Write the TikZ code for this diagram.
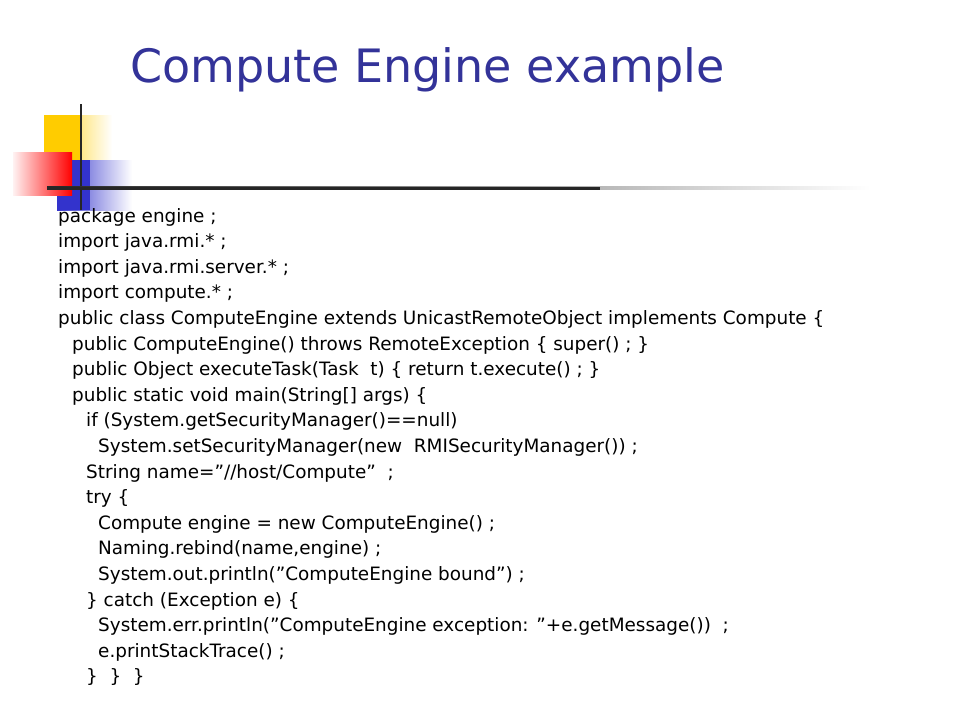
\documentclass[tikz,border=0pt]{standalone}
\usepackage{fontspec}
\defaultfontfeatures{}
\setmainfont{DejaVu Sans}
\definecolor{ttl}{HTML}{333399}
\definecolor{yel}{HTML}{FFCC00}
\definecolor{blu}{HTML}{3333CC}
\begin{document}
\begin{tikzpicture}[x=1pt,y=-1pt,
  code/.style={anchor=base west,inner sep=0,font=\fontsize{18.4}{18.4}\selectfont}]
\useasboundingbox (0,0) rectangle (960,720);
\fill[white] (0,0) rectangle (960,720);
% decoration
\shade[left color=yel,right color=white] (44,115) rectangle (112,160);
\fill[yel] (44,115) rectangle (80,160);
\shade[left color=blu,right color=white] (57,160) rectangle (132,210);
\fill[blu] (57,160) rectangle (90,210);
\shade[left color=red!5!white,right color=red] (13,152) rectangle (72,195);
\draw[line width=2.5pt,black!85] (81,104) -- (81,210);
\shade[left color=black!85,right color=white] (47,186.5) rectangle (870,189.5);
\fill[black!85] (47,186.5) rectangle (600,189.5);
\node[anchor=base west,inner sep=0,text=ttl,font=\fontsize{46}{46}\selectfont] (title) at (130,82) {Compute Engine example};
\foreach \t/\x [count=\i from 0] in {
 {package engine ;}/58,
 {import java.rmi.* ;}/58,
 {import java.rmi.server.* ;}/58,
 {import compute.* ;}/58,
 {public class ComputeEngine extends UnicastRemoteObject implements Compute \{}/58,
 {public ComputeEngine() throws RemoteException \{ super() ; \}}/72,
 {public Object executeTask(Task\ \ t) \{ return t.execute() ; \}}/72,
 {public static void main(String[] args) \{}/72,
 {if (System.getSecurityManager()==null)}/86,
 {System.setSecurityManager(new\ \ RMISecurityManager()) ;}/98,
 {String name="//host/Compute"\ \ ;}/86,
 {try \{}/86,
 {Compute engine = new ComputeEngine() ;}/98,
 {Naming.rebind(name,engine) ;}/98,
 {System.out.println("ComputeEngine bound") ;}/98,
 {\} catch (Exception e) \{}/86,
 {System.err.println("ComputeEngine exception: "+e.getMessage())\ \ ;}/98,
 {e.printStackTrace() ;}/98,
 {\}\ \ \}\ \ \}}/86}
 \node[code] (l\i) at (\x,{222+25.6*\i}) {\t};
\end{tikzpicture}
\end{document}
